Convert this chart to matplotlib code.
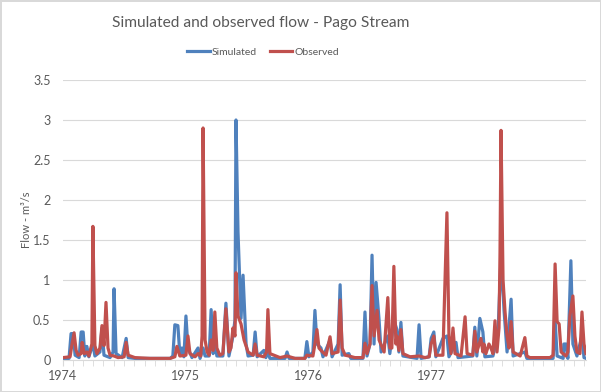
import numpy as np
import pandas as pd
import matplotlib
matplotlib.use('Agg')
import matplotlib.pyplot as plt
import matplotlib.dates as mdates

# days since 1974-01-01 and flow (m3/s)
start = '1974-01-01'

obs_days = [0, 21, 27, 33, 39, 45, 54, 57, 63, 71, 77, 86, 89, 95, 101, 110, 116, 122, 128, 134,
            140, 152, 164, 182, 188, 194, 214, 259, 319, 333, 339, 348, 366, 372, 378, 393, 402,
            410, 414, 417, 423, 429, 435, 441, 447, 452, 458, 467, 476, 485, 494, 500, 506, 512,
            515, 521, 530, 539, 551, 566, 572, 578, 598, 606, 610, 616, 646, 667, 691, 720, 726,
            744, 750, 756, 762, 768, 783, 795, 801, 819, 825, 831, 840, 851, 869, 893, 899, 905,
            914, 920, 926, 935, 941, 956, 967, 973, 979, 985, 991, 994, 1000, 1006, 1012, 1033,
            1060, 1078, 1090, 1096, 1104, 1110, 1131, 1137, 1143, 1149, 1155, 1161, 1167, 1185,
            1197, 1203, 1220, 1226, 1232, 1244, 1250, 1253, 1259, 1268, 1274, 1280, 1286, 1292,
            1298, 1301, 1304, 1310, 1316, 1322, 1328, 1334, 1340, 1361, 1375, 1381, 1390, 1450,
            1459, 1465, 1471, 1477, 1483, 1497, 1503, 1509, 1518, 1524, 1530, 1539, 1545, 1551,
            1557]
obs_flow = [0.03, 0.04, 0.2, 0.34, 0.12, 0.06, 0.08, 0.22, 0.08, 0.10, 0.05, 0.2, 1.67, 0.18, 0.08,
            0.15, 0.43, 0.18, 0.72, 0.15, 0.06, 0.05, 0.03, 0.04, 0.22, 0.06, 0.03, 0.02, 0.02,
            0.04, 0.17, 0.05, 0.06, 0.30, 0.08, 0.04, 0.08, 0.05, 0.3, 2.90, 0.25, 0.10, 0.06,
            0.25, 0.12, 0.60, 0.15, 0.06, 0.08, 0.64, 0.1, 0.15, 0.40, 0.3, 1.09, 0.55, 0.45,
            0.25, 0.1, 0.06, 0.20, 0.06, 0.04, 0.1, 0.63, 0.08, 0.03, 0.05, 0.02, 0.02, 0.06,
            0.05, 0.2, 0.38, 0.15, 0.12, 0.06, 0.29, 0.08, 0.1, 0.75, 0.15, 0.06, 0.05, 0.03,
            0.03, 0.21, 0.08, 0.2, 0.93, 0.3, 0.62, 0.25, 0.1, 0.78, 0.15, 0.15, 1.17, 0.2, 0.3,
            0.12, 0.38, 0.08, 0.04, 0.05, 0.03, 0.04, 0.2, 0.3, 0.06, 0.06, 0.94, 1.84, 0.3,
            0.08, 0.40, 0.08, 0.05, 0.54, 0.08, 0.06, 0.36, 0.1, 0.27, 0.1, 0.2, 0.08, 0.2, 0.15,
            0.08, 0.49, 0.1, 0.4, 1.33, 2.87, 1.0, 0.6, 0.3, 0.15, 0.48, 0.1, 0.05, 0.28, 0.05,
            0.03, 0.03, 0.06, 1.20, 0.48, 0.45, 0.1, 0.05, 0.1, 0.55, 0.80, 0.3, 0.1, 0.08, 0.60,
            0.2, 0.08]

sim_days = [0, 18, 24, 30, 36, 48, 54, 60, 65, 71, 77, 89, 95, 110, 116, 122, 140, 149, 152, 158,
            176, 188, 194, 214, 319, 327, 333, 342, 348, 354, 360, 366, 372, 384, 402, 408, 417,
            423, 435, 441, 447, 452, 458, 476, 485, 494, 506, 512, 515, 521, 530, 536, 545, 551,
            566, 572, 578, 598, 604, 610, 616, 661, 667, 673, 720, 726, 732, 744, 750, 756, 768,
            774, 795, 801, 819, 825, 831, 851, 857, 893, 899, 905, 914, 920, 926, 932, 941, 947,
            967, 973, 985, 994, 1000, 1006, 1012, 1054, 1060, 1066, 1090, 1096, 1104, 1110, 1131,
            1143, 1149, 1170, 1176, 1220, 1226, 1232, 1241, 1250, 1256, 1280, 1295, 1304, 1313,
            1322, 1334, 1340, 1375, 1381, 1459, 1465, 1471, 1489, 1491, 1497, 1503, 1512, 1518,
            1530, 1545, 1551, 1557]
sim_flow = [0.02, 0.02, 0.33, 0.33, 0.06, 0.03, 0.35, 0.35, 0.05, 0.17, 0.04, 0.2, 0.05, 0.1, 0.40,
            0.06, 0.03, 0.1, 0.89, 0.08, 0.03, 0.27, 0.03, 0.02, 0.02, 0.05, 0.44, 0.43, 0.06,
            0.15, 0.04, 0.55, 0.15, 0.03, 0.15, 0.02, 0.15, 0.05, 0.05, 0.63, 0.08, 0.3, 0.05,
            0.05, 0.71, 0.05, 0.3, 0.5, 3.0, 1.6, 0.52, 1.06, 0.2, 0.05, 0.06, 0.35, 0.04, 0.12,
            0.03, 0.1, 0.02, 0.02, 0.1, 0.02, 0.02, 0.23, 0.04, 0.1, 0.62, 0.2, 0.15, 0.04, 0.25,
            0.04, 0.2, 0.94, 0.06, 0.08, 0.02, 0.02, 0.60, 0.05, 0.2, 1.31, 0.2, 0.97, 0.5, 0.1,
            0.3, 0.08, 0.5, 0.38, 0.1, 0.47, 0.05, 0.02, 0.44, 0.02, 0.04, 0.27, 0.35, 0.04, 0.27,
            0.3, 0.04, 0.22, 0.03, 0.05, 0.41, 0.05, 0.52, 0.35, 0.04, 0.05, 0.33, 1.3, 0.62, 0.1,
            0.76, 0.05, 0.1, 0.02, 0.02, 0.5, 0.05, 0.02, 0.2, 0.2, 0.02, 1.24, 0.2, 0.05, 0.3,
            0.03, 0.02]

year_ticks = ['1974', '1975', '1976', '1977']

sim_dates = pd.Timestamp(start) + pd.to_timedelta(sim_days, unit='D')
obs_dates = pd.Timestamp(start) + pd.to_timedelta(obs_days, unit='D')

grey = '#595959'
plt.rcParams['font.family'] = ['Lato', 'DejaVu Sans']

fig = plt.figure(figsize=(6.01, 3.92), dpi=100)
fig.patch.set_edgecolor('#D9D9D9')
fig.patch.set_linewidth(1.0)
ax = fig.add_axes([63 / 601, 1 - 360 / 392, 523 / 601, 280 / 392])

ax.plot(sim_dates, sim_flow, color='#4F81BD', lw=2.3, label='Simulated', solid_joinstyle='round')
ax.plot(obs_dates, obs_flow, color='#C0504D', lw=2.3, label='Observed', solid_joinstyle='round')

ax.set_xlim(sim_dates[0], sim_dates[-1])
ax.set_ylim(0, 3.5)
ax.set_yticks(np.arange(0, 3.51, 0.5))
ax.set_yticklabels(['0', '0.5', '1', '1.5', '2', '2.5', '3', '3.5'])
ax.grid(axis='y', color='#D9D9D9', lw=0.8)
ax.set_axisbelow(True)

ax.set_xticks(pd.to_datetime(year_ticks))
ax.set_xticklabels(year_ticks)
ax.xaxis.set_minor_locator(mdates.MonthLocator())

for s in ['top', 'right', 'left']:
    ax.spines[s].set_visible(False)
ax.spines['bottom'].set_color('#D9D9D9')
ax.tick_params(axis='y', length=0, pad=9, labelsize=9, labelcolor=grey)
ax.tick_params(axis='x', which='both', color='#D9D9D9', length=4, labelsize=9,
               labelcolor=grey, pad=3)

ax.set_ylabel('Flow - m³/s', fontsize=8, color=grey)
ax.yaxis.set_label_coords(-31 / 523, 0.5)

fig.text(261 / 601, 1 - 23 / 392, 'Simulated and observed flow - Pago Stream', ha='center',
         va='center', fontsize=11.2, color=grey)
fig.legend(loc='center', bbox_to_anchor=(263 / 601, 1 - 52 / 392), ncol=2, frameon=False,
           fontsize=7.5, labelcolor=grey, handlelength=2.2,
           handletextpad=0.2, columnspacing=1.2)

fig.savefig('out.png', dpi=100)
